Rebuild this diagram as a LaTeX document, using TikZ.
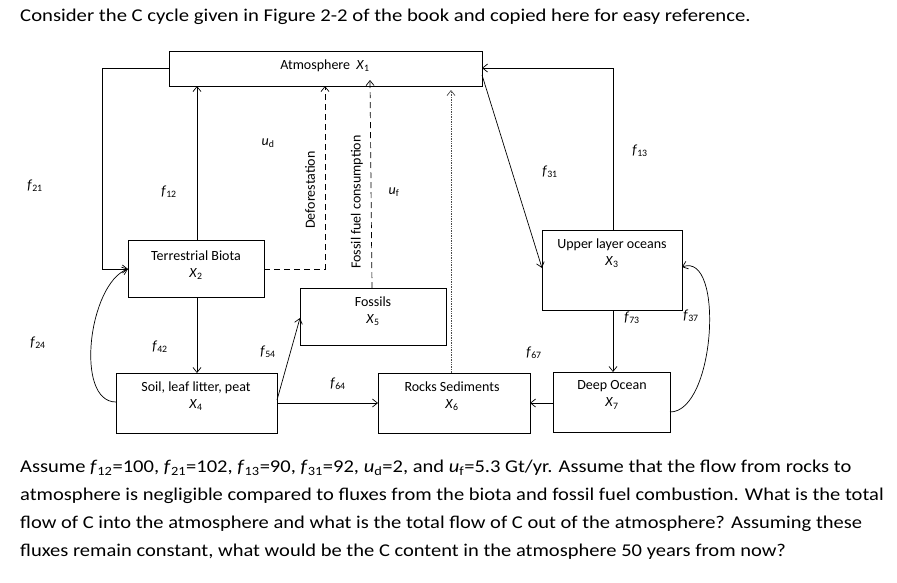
\documentclass[tikz,border=0pt]{standalone}
\usepackage{fontspec}
\setmainfont{Carlito}
\usetikzlibrary{arrows.meta}
\begin{document}
\begin{tikzpicture}[x=1pt,y=-1pt,
 bx/.style={draw,line width=0.9pt,inner sep=0pt},
 ar/.style={-{Straight Barb[length=5pt,width=8pt]},line width=0.7pt},
 lb/.style={font=\fontsize{14}{16}\selectfont,inner sep=0pt,align=center},
 tx/.style={font=\fontsize{18}{20}\selectfont,anchor=west,inner sep=0pt,transform shape}]
\useasboundingbox (0,0) rectangle (897,582);
\newcommand{\fl}[1]{\textit{f}\textsubscript{#1}}
\newcommand{\XX}[1]{\textit{X}\textsubscript{#1}}
\node[tx,xscale=1.15] (t0) at (20,17) {Consider the C cycle given in Figure 2-2 of the book and copied here for easy reference.};
\node[bx,minimum width=313pt,minimum height=35pt,anchor=north west] (atm) at (169,51) {};
\node[lb] (atmt) at (325,66) {Atmosphere \ \XX{1}};
\node[bx,minimum width=136pt,minimum height=57pt,anchor=north west] (tb) at (128,240) {};
\node[lb] (tbt) at (196,265) {Terrestrial Biota\\[1pt]\XX{2}};
\node[bx,minimum width=161pt,minimum height=60pt,anchor=north west] (soil) at (116,373) {};
\node[lb] (soilt) at (196,396) {Soil, leaf litter, peat\\[1pt]\XX{4}};
\node[bx,minimum width=146pt,minimum height=57pt,anchor=north west] (fos) at (300,288) {};
\node[lb] (fost) at (373,311) {Fossils\\[1pt]\XX{5}};
\node[bx,minimum width=152pt,minimum height=60pt,anchor=north west] (rock) at (378,373) {};
\node[lb] (rockt) at (452,396) {Rocks Sediments\\[1pt]\XX{6}};
\node[bx,minimum width=140pt,minimum height=80pt,anchor=north west] (up) at (542,230) {};
\node[lb] (upt) at (612,253) {Upper layer oceans\\[1pt]\XX{3}};
\node[bx,minimum width=117pt,minimum height=60pt,anchor=north west] (deep) at (553,372) {};
\node[lb] (deept) at (612,395) {Deep Ocean\\[1pt]\XX{7}};
% connectors
\draw[ar] (197,240) -- (197,86);
\draw[ar] (169,68) -- (102,68) -- (102,269) -- (128,269);
\draw[ar,dashed,dash pattern=on 6pt off 4pt] (264,269) -- (325,269) -- (325,86);
\draw[ar,dashed,dash pattern=on 6pt off 4pt] (372,288) -- (370,80);
\draw[ar,densely dotted,gray!60!black] (451,373) -- (451,90);
\draw[ar] (482,75) -- (542,268);
\draw[ar] (613,230) -- (613,68) -- (482,68);
\draw[ar] (613,310) -- (613,372);
\draw[ar] (670,412) to[out=0,in=20,looseness=0.8] (682,267);
\draw[ar] (553,403) -- (530,403);
\draw[ar] (277,403) -- (378,403);
\draw[ar] (277,400) -- (300,318);
\draw[ar] (197,297) -- (197,373);
\draw[ar] (116,402) to[out=180,in=200,looseness=0.8] (128,269);
% labels
\node[lb] (l21) at (35,186) {\fl{21}};
\node[lb] (l12) at (169,192) {\fl{12}};
\node[lb] (lud) at (268,143) {\textit{u}\textsubscript{d}};
\node[lb,rotate=90] (ldef) at (310,190) {Deforestation};
\node[lb,rotate=90] (lffc) at (357,202) {Fossil fuel consumption};
\node[lb] (luf) at (394,192) {\textit{u}\textsubscript{f}};
\node[lb] (l31) at (550,172) {\fl{31}};
\node[lb] (l13) at (640,151) {\fl{13}};
\node[lb] (l24) at (38,343) {\fl{24}};
\node[lb] (l42) at (160,347) {\fl{42}};
\node[lb] (l54) at (268,352) {\fl{54}};
\node[lb] (l64) at (338,384) {\fl{64}};
\node[lb] (l67) at (534,353) {\fl{67}};
\node[lb] (l73) at (632,318) {\fl{73}};
\node[lb] (l37) at (691,316) {\fl{37}};
% paragraph
\node[tx,xscale=1.14] (p1) at (20,468) {Assume \fl{12}=100, \fl{21}=102, \fl{13}=90, \fl{31}=92, \textit{u}\textsubscript{d}=2, and \textit{u}\textsubscript{f}=5.3 Gt/yr. Assume that the flow from rocks to};
\node[tx,xscale=1.14] (p2) at (20,496) {atmosphere is negligible compared to fluxes from the biota and fossil fuel combustion. What is the total};
\node[tx,xscale=1.14] (p3) at (20,524) {flow of C into the atmosphere and what is the total flow of C out of the atmosphere? Assuming these};
\node[tx,xscale=1.14] (p4) at (20,552) {fluxes remain constant, what would be the C content in the atmosphere 50 years from now?};
\end{tikzpicture}
\end{document}
